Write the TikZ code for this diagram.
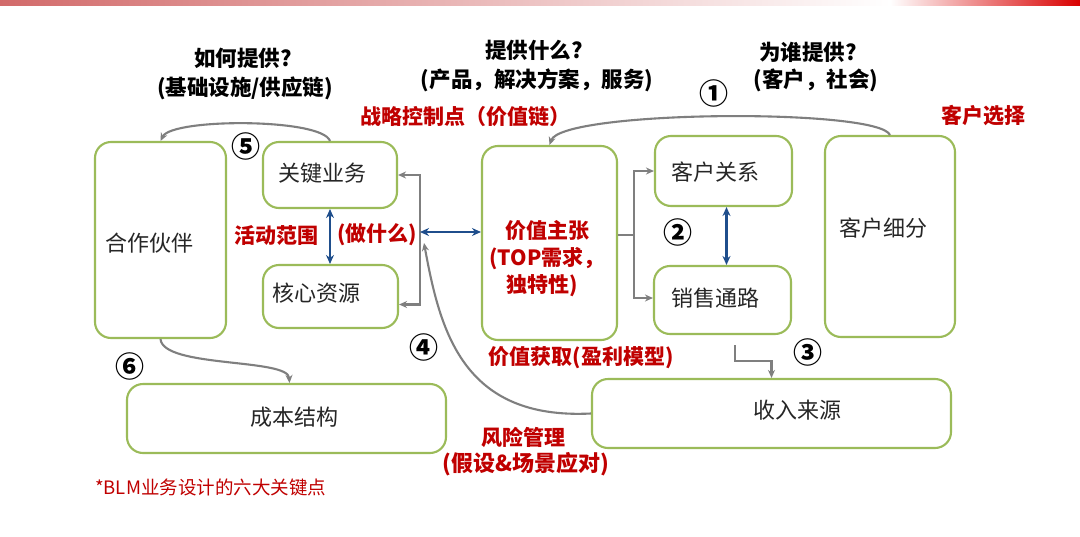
\documentclass[tikz,border=0pt]{standalone}
\usepackage{fontspec}
\setmainfont{Noto Sans CJK SC}
\usetikzlibrary{arrows.meta}
\definecolor{bgreen}{HTML}{9BBB59}
\definecolor{bred}{HTML}{C00000}
\definecolor{bblue}{HTML}{1F4E8C}
\definecolor{lgray}{HTML}{7F7F7F}
\definecolor{tdark}{HTML}{262626}
\definecolor{barl}{HTML}{D26A6A}
\begin{document}
\begin{tikzpicture}[x=1pt,y=-1pt,
  box/.style={draw=bgreen,line width=2.1pt,rounded corners=16pt,fill=white,inner sep=0pt},
  lbl/.style={text=tdark,font=\fontsize{22}{26}\selectfont,inner sep=0pt},
  head/.style={text=black,font=\bfseries\fontsize{21.5}{26}\selectfont,inner sep=0pt},
  redl/.style={text=bred,font=\bfseries\fontsize{21}{25}\selectfont,inner sep=0pt},
  num/.style={text=black,font=\bfseries\fontsize{29}{32}\selectfont,inner sep=0pt},
  garrow/.style={draw=lgray,line width=2.1pt,-{Stealth[length=8pt,width=7pt]}},
  gline/.style={draw=lgray,line width=2.1pt},
  barrow/.style={draw=bblue,line width=2.4pt,{Stealth[length=9pt,width=8pt]}-{Stealth[length=9pt,width=8pt]}}]
\useasboundingbox (0,0) rectangle (1080,536);
\fill[white] (0,0) rectangle (1080,536);
% top bar
\shade[left color=barl, right color=white] (0,0) rectangle (890,5);
\shade[left color=white, right color=red!85!black] (890,0) rectangle (1080,5);

% boxes
\node[box,minimum width=131,minimum height=196] (hz) at (160.5,240) {};
\node[box,minimum width=134,minimum height=66] (gj) at (330,175) {};
\node[box,minimum width=135,minimum height=63] (hx) at (330.5,296.5) {};
\node[box,minimum width=135,minimum height=194] (jz) at (549.5,243) {};
\node[box,minimum width=137,minimum height=70] (kg) at (723.5,171) {};
\node[box,minimum width=137,minimum height=68] (xs) at (722.5,300) {};
\node[box,minimum width=130,minimum height=201] (kx) at (890,236.5) {};
\node[box,minimum width=319,minimum height=69] (cb) at (286.5,418.5) {};
\node[box,minimum width=359,minimum height=69] (sr) at (771.5,413.5) {};

% box labels
\node[lbl] (hzt) at (149,243) {合作伙伴};
\node[lbl] (gjt) at (322,173) {关键业务};
\node[lbl] (hxt) at (316,293) {核心资源};
\node[lbl] (kgt) at (715,172) {客户关系};
\node[lbl] (xst) at (715,298) {销售通路};
\node[lbl] (kxt) at (883,228) {客户细分};
\node[lbl] (cbt) at (294,417) {成本结构};
\node[lbl] (srt) at (797,410) {收入来源};
\node[redl] (jz1) at (547,231) {价值主张};
\node[redl] (jz2) at (547,259) {(TOP需求，};
\node[redl] (jz3) at (542,286) {独特性)};

% headings
\node[head] (h1a) at (243,58) {如何提供?};
\node[head] (h1b) at (245,88) {(基础设施/供应链)};
\node[head] (h2a) at (534,50) {提供什么?};
\node[head] (h2b) at (537,80) {(产品，解决方案，服务)};
\node[head] (h3a) at (808,52) {为谁提供?};
\node[head] (h3b) at (816,80) {(客户，社会)};

% red labels
\node[redl] (zl) at (465,117) {战略控制点（价值链）};
\node[redl] (kxz) at (983,116) {客户选择};
\node[redl] (hd) at (276,235) {活动范围};
\node[redl] (zsm) at (377,235) {(做什么)};
\node[redl] (jh) at (581,358) {价值获取(盈利模型)};
\node[redl] (fx1) at (523,437) {风险管理};
\node[redl,font=\bfseries\fontsize{22}{26}\selectfont] (fx2) at (526,464) {(假设\&场景应对)};
\node[text=bred,font=\fontsize{18.5}{22}\selectfont,inner sep=0pt,anchor=west] (note) at (95,487) {*BLM业务设计的六大关键点};

% numbers
\node[num] (n1) at (714,93) {①};
\node[num] (n2) at (678,232) {②};
\node[num] (n3) at (808,352) {③};
\node[num] (n4) at (424,347) {④};
\node[num] (n5) at (246,146) {⑤};
\node[num] (n6) at (130,366) {⑥};

% connectors
\draw[garrow] (gj.north) .. controls (322,118) and (172,118) .. (hz.north);
\draw[garrow] (kx.north) .. controls (878,108) and (562,110) .. (jz.north);

\coordinate (m1) at (420,232);
\draw[garrow] (m1) |- (gj.east);
\draw[garrow] (m1) |- ([yshift=-8pt]hx.east);
\draw[barrow] (m1) -- (m1 -| jz.west);
\draw[barrow] (gj.south) -- (gj.south |- hx.north);

\coordinate (m2) at (634,235);
\draw[gline] (jz.east |- m2) -- (m2);
\draw[garrow] (m2) |- (kg.west);
\draw[garrow] (m2) |- ([yshift=2pt]xs.west);
\draw[barrow] ([xshift=3pt]kg.south) -- ([xshift=3pt]kg.south |- xs.north);

\coordinate (c3) at (735,345);
\draw[garrow] (c3) |- ([yshift=17pt]sr.north) -- (sr.north);

\draw[garrow] (hz.south) .. controls (163,368) and (288,358) .. ([xshift=3pt]cb.north);

\coordinate (c4) at (424,243);
\draw[garrow] (sr.west) .. controls (462,420) and (440,330) .. (c4);
\end{tikzpicture}
\end{document}
